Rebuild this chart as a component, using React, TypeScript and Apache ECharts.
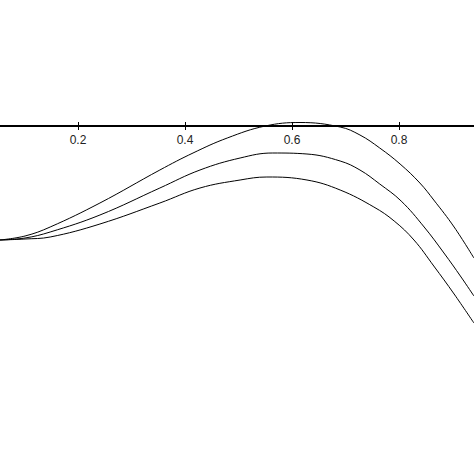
import React, { useEffect, useRef } from "react";
import * as echarts from "echarts";

const xTop = [0.054, 0.101, 0.148, 0.241, 0.353, 0.415, 0.479, 0.55, 0.615, 0.69, 0.727, 0.764, 0.802, 0.839, 0.865, 0.903, 0.94];
const yTop = [-1.14, -1.1, -1.01, -0.77, -0.44, -0.27, -0.12, 0.0, 0.035, -0.01, -0.09, -0.22, -0.38, -0.57, -0.74, -1.01, -1.32];

const xMid = [0.054, 0.101, 0.148, 0.241, 0.353, 0.428, 0.503, 0.564, 0.628, 0.69, 0.727, 0.764, 0.804, 0.847, 0.884, 0.916, 0.94];
const yMid = [-1.14, -1.12, -1.06, -0.89, -0.62, -0.44, -0.32, -0.27, -0.28, -0.35, -0.44, -0.58, -0.75, -1.01, -1.27, -1.51, -1.7];

const xBot = [0.054, 0.101, 0.148, 0.241, 0.353, 0.428, 0.503, 0.553, 0.628, 0.69, 0.753, 0.791, 0.828, 0.865, 0.903, 0.94];
const yBot = [-1.14, -1.13, -1.11, -0.98, -0.77, -0.62, -0.54, -0.51, -0.54, -0.64, -0.81, -0.95, -1.14, -1.4, -1.68, -1.97];

const xMin = 0;
const xMax = 1;
const xTickInterval = 0.2;

function pairs(xs: number[], ys: number[]) {
  return xs.map((x, i) => [x, ys[i]]);
}

export default function App() {
  const ref = useRef<HTMLDivElement>(null);
  useEffect(() => {
    if (!ref.current) return;
    const chart = echarts.init(ref.current, null, { renderer: "svg" });
    const lineSeries = (data: number[][]) => ({
      type: "line",
      data,
      smooth: 0.4,
      symbol: "none",
      lineStyle: { color: "#000", width: 1 },
      xAxisIndex: 0,
      yAxisIndex: 0,
    });
    const gridBase = { left: -29, width: 535, containLabel: false, outerBoundsMode: "none" };
    chart.setOption({
      animation: false,
      backgroundColor: "#fff",
      grid: [
        { ...gridBase, top: 0, height: 474 },
        { ...gridBase, top: 0, height: 126 },
      ],
      xAxis: [
        {
          type: "value",
          gridIndex: 0,
          min: xMin,
          max: xMax,
          interval: xTickInterval,
          show: false,
          splitLine: { show: false },
        },
        {
          type: "value",
          gridIndex: 1,
          min: xMin,
          max: xMax,
          interval: xTickInterval,
          position: "bottom",
          splitLine: { show: false },
          axisLine: { show: true, onZero: false, lineStyle: { color: "#000", width: 2 } },
          axisTick: { show: true, inside: false, length: 4, lineStyle: { color: "#000", width: 1 } },
          axisLabel: {
            show: true,
            margin: 8,
            fontSize: 12,
            fontFamily: "Liberation Sans, Arial, sans-serif",
            color: "#222",
            showMinLabel: false,
            showMaxLabel: false,
            formatter: (v: number) => (v <= xMin || v >= xMax ? "" : String(Math.round(v * 10) / 10)),
          },
        },
        {
          type: "value",
          gridIndex: 1,
          min: xMin,
          max: xMax,
          interval: xTickInterval,
          position: "bottom",
          splitLine: { show: false },
          axisLine: { show: true, onZero: false, lineStyle: { color: "#000", width: 2 } },
          axisTick: { show: true, inside: true, length: 4, lineStyle: { color: "#000", width: 1 } },
          axisLabel: { show: false },
        },
      ],
      yAxis: [
        { type: "value", gridIndex: 0, min: -3.48, max: 1.26, show: false, splitLine: { show: false } },
        { type: "value", gridIndex: 1, min: 0, max: 1, show: false, splitLine: { show: false } },
      ],
      series: [
        lineSeries(pairs(xTop, yTop)),
        lineSeries(pairs(xMid, yMid)),
        lineSeries(pairs(xBot, yBot)),
      ],
    });
    return () => chart.dispose();
  }, []);
  return (
    <div
      ref={ref}
      style={{ position: "absolute", left: 0, top: 0, width: 474, height: 474 }}
    />
  );
}
